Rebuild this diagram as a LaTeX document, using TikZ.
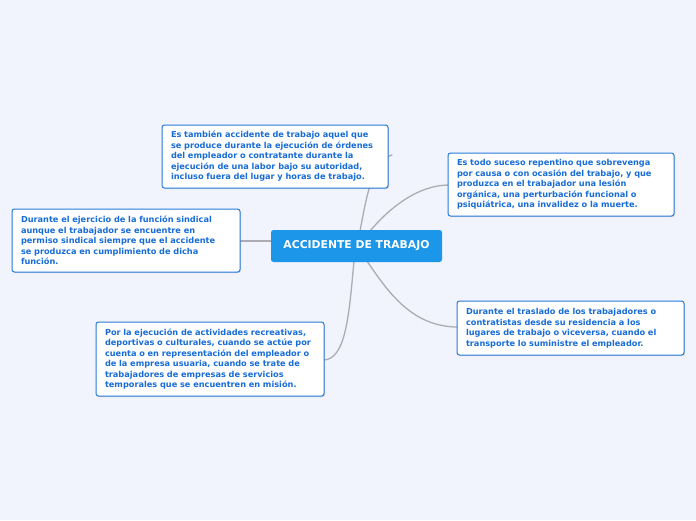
\documentclass[tikz,border=0pt]{standalone}
\usepackage{fontspec}
\setmainfont{DejaVu Sans}
\usetikzlibrary{shadows}
\definecolor{bgc}{RGB}{241,244,252}
\definecolor{txtblue}{RGB}{24,108,214}
\definecolor{brdblue}{RGB}{38,122,216}
\definecolor{ctrblue}{RGB}{28,150,232}
\definecolor{linegray}{RGB}{172,172,178}
\tikzset{
  topicbox/.style={draw=brdblue, line width=1pt, fill=white, rounded corners=2.5pt,
    drop shadow={shadow xshift=1pt, shadow yshift=-1.2pt, opacity=0.25},
    text=txtblue, font=\bfseries\fontsize{8.2}{10.5}\selectfont, align=left, inner sep=0pt},
  centerbox/.style={fill=ctrblue, rounded corners=2.5pt, text=white,
    font=\bfseries\fontsize{10.8}{12}\selectfont, inner sep=0pt},
  conn/.style={draw=linegray, line width=1.3pt, line cap=round}
}
\begin{document}
\begin{tikzpicture}[x=1pt,y=-1pt]
\fill[bgc] (0,0) rectangle (696,520);
\useasboundingbox (0,0) rectangle (696,520);
% anchor coordinates
\coordinate (cT1) at (360,231);
\coordinate (cT2) at (370,231);
\coordinate (cB1) at (354,261);
\coordinate (cB2) at (367,261);
\coordinate (cL) at (271,241);
\coordinate (eTop) at (392,155);
\coordinate (eRT) at (449,185);
\coordinate (eRB) at (458,327);
\coordinate (eBL) at (323,360);
\coordinate (eL) at (239,241);
% connectors
\draw[conn] (cT1) .. controls (366,200) and (372,160) .. (eTop);
\draw[conn] (cT2) .. controls (392,205) and (420,185) .. (eRT);
\draw[conn] (cB2) .. controls (388,292) and (412,327) .. (eRB);
\draw[conn] (cB1) .. controls (349,315) and (346,360) .. (eBL);
\draw[conn] (cL) -- (eL);
% center
\node[centerbox, minimum width=171pt, minimum height=32pt] (center) at (356.5,246) {ACCIDENTE DE TRABAJO};
% topics
\node[topicbox, minimum width=226pt, minimum height=63pt, text width=208pt] (top) at (275,156.5)
 {Es también accidente de trabajo aquel que\\se produce durante la ejecución de órdenes\\del empleador o contratante durante la\\ejecución de una labor bajo su autoridad,\\incluso fuera del lugar y horas de trabajo.};
\node[topicbox, minimum width=226pt, minimum height=63pt, text width=208pt] (rt) at (561,184.5)
 {Es todo suceso repentino que sobrevenga\\por causa o con ocasión del trabajo, y que\\produzca en el trabajador una lesión\\orgánica, una perturbación funcional o\\psiquiátrica, una invalidez o la muerte.};
\node[topicbox, minimum width=228pt, minimum height=63pt, text width=210pt] (left) at (126,240.5)
 {Durante el ejercicio de la función sindical\\aunque el trabajador se encuentre en\\permiso sindical siempre que el accidente\\se produzca en cumplimiento de dicha\\función.};
\node[topicbox, minimum width=228pt, minimum height=74pt, text width=210pt] (bl) at (210,359)
 {Por la ejecución de actividades recreativas,\\deportivas o culturales, cuando se actúe por\\cuenta o en representación del empleador o\\de la empresa usuaria, cuando se trate de\\trabajadores de empresas de servicios\\temporales que se encuentren en misión.};
\node[topicbox, minimum width=227pt, minimum height=54pt, text width=209pt] (rb) at (570.5,328)
 {Durante el traslado de los trabajadores o\\contratistas desde su residencia a los\\lugares de trabajo o viceversa, cuando el\\transporte lo suministre el empleador.};
\end{tikzpicture}
\end{document}
